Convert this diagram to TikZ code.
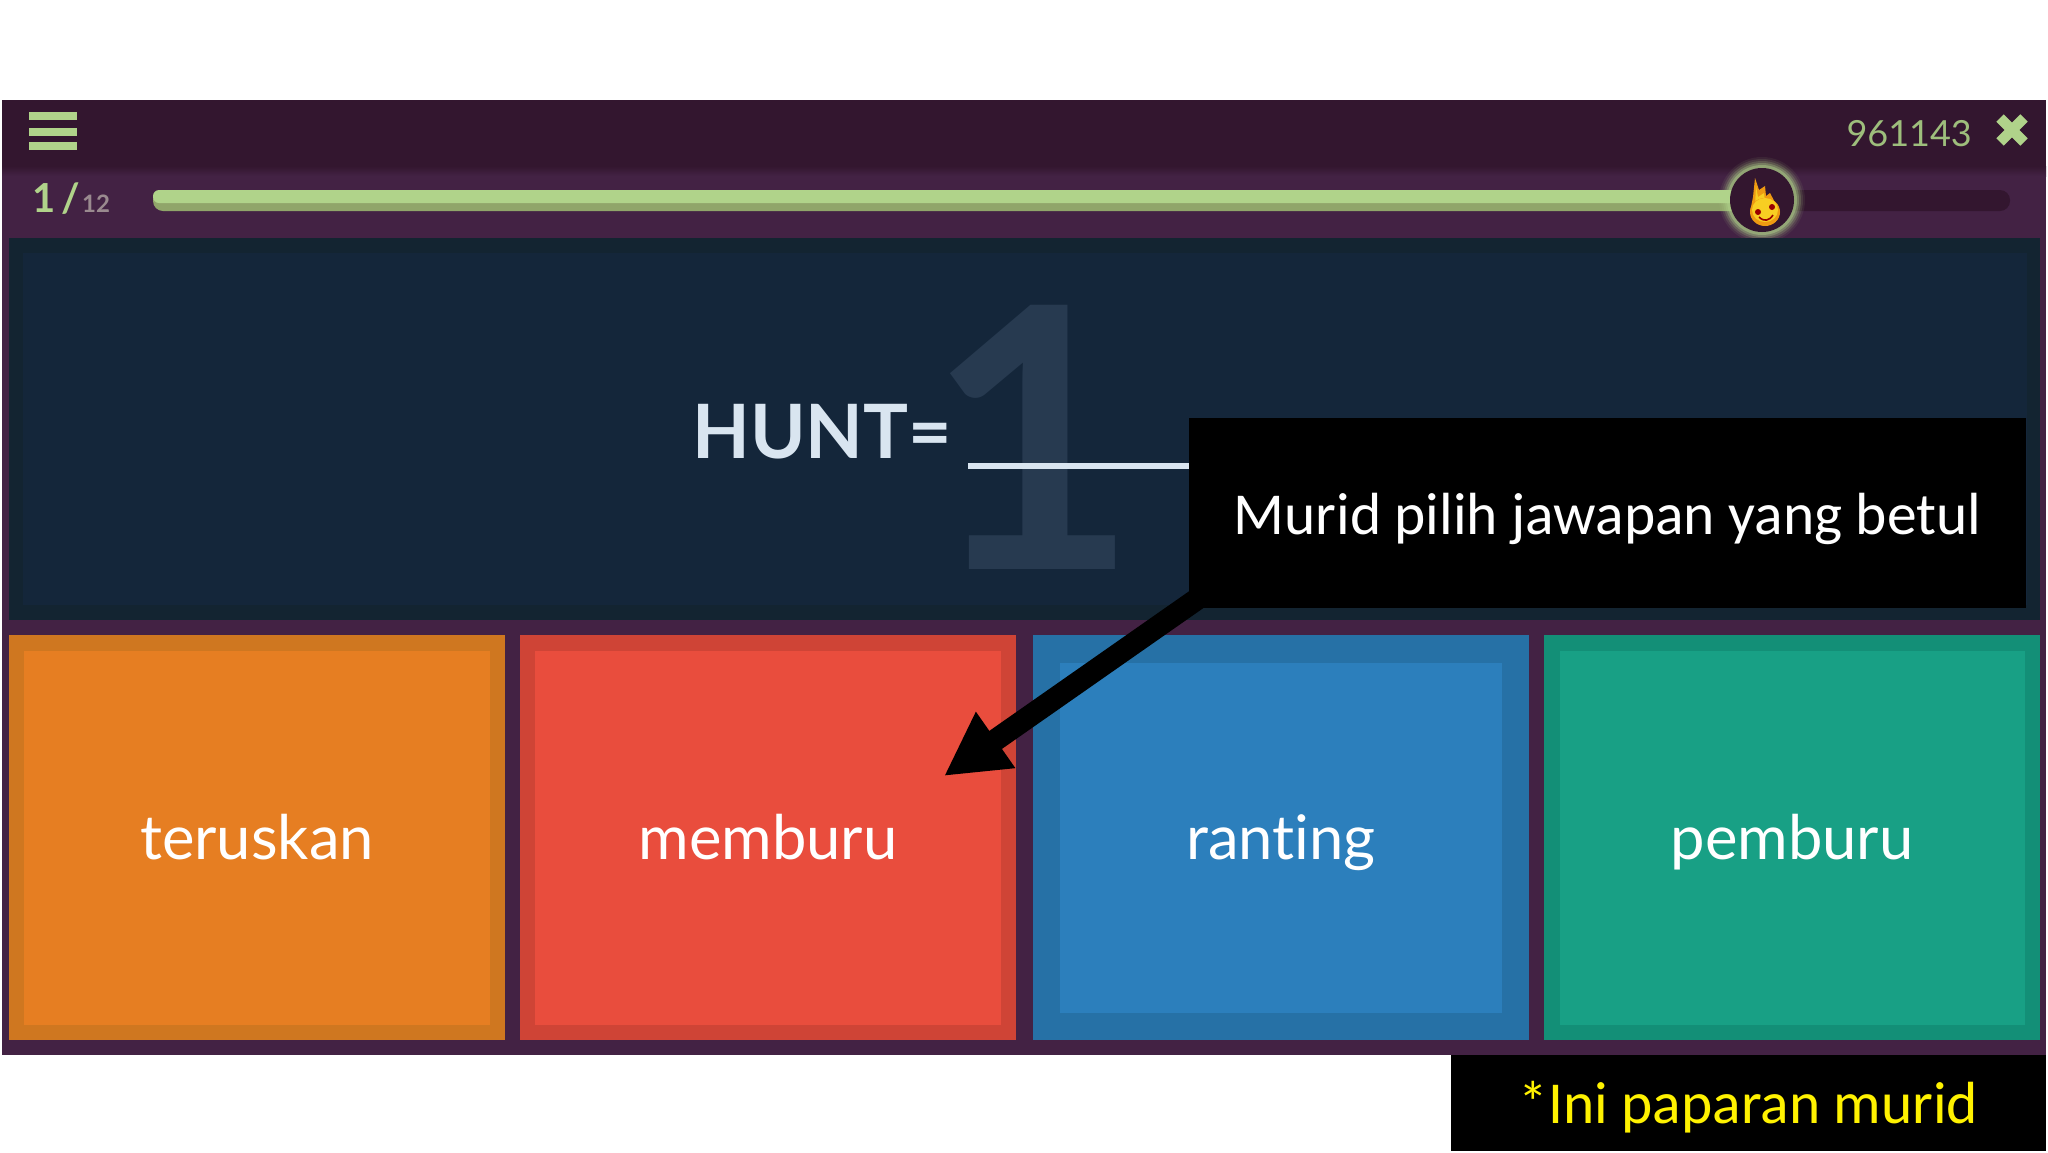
\documentclass[tikz,border=0pt]{standalone}
\usepackage{fontspec}
\setmainfont[Ligatures=NoCommon]{Lato}
\newfontfamily\notefont{Carlito}
\usepackage{xcolor}
\usetikzlibrary{arrows.meta, positioning}
\definecolor{barpurple}{HTML}{33162F}
\definecolor{panelpurple}{HTML}{432244}
\definecolor{quizouter}{HTML}{132431}
\definecolor{quizinner}{HTML}{14263A}
\definecolor{ghostone}{HTML}{273A50}
\definecolor{limegreen}{HTML}{B0D38A}
\definecolor{limedark}{HTML}{90A56A}
\definecolor{hintgrey}{HTML}{9A8A8F}
\definecolor{ice}{HTML}{D9E5F0}
\definecolor{orangeouter}{HTML}{CF7720}
\definecolor{orangeinner}{HTML}{E67E22}
\definecolor{redouter}{HTML}{CF4436}
\definecolor{redinner}{HTML}{E94D3D}
\definecolor{blueouter}{HTML}{2671A6}
\definecolor{blueinner}{HTML}{2C7FBC}
\definecolor{greenouter}{HTML}{138F77}
\definecolor{greeninner}{HTML}{18A085}
\definecolor{flameorange}{HTML}{EE9A12}
\definecolor{flameyellow}{HTML}{F8CE22}
\tikzset{
    outernode/.style = {draw=none, rectangle, inner sep = 0em, node distance=0em, minimum width=496pt, minimum height=405pt},
    innernode/.style = {draw=none, rectangle, inner sep = 0em, node distance=0em, text=white, text height=44pt, text depth=0pt, font=\fontsize{61.5}{72}\selectfont},
    textnode/.style  = {draw=none, fill=none, rectangle, inner sep = 0em, node distance=0em},
    notenode/.style  = {draw=none, fill=black, rectangle, inner sep = 0em, text depth=0pt, font=\notefont\fontsize{59.5}{70}\selectfont},
    connect/.style = {black, line width=22pt, -{Triangle[length=63pt,width=64pt]}}
}
\begin{document}
\begin{tikzpicture}[x=1pt, y=-1pt]
\useasboundingbox (0,0) rectangle (2048,1152);
\fill[white] (0,0) rectangle (2048,1152);
\fill[panelpurple] (2,100) rectangle (2046,1055);
\fill[barpurple] (2,100) rectangle (2046,166);
\shade[top color=barpurple, bottom color=panelpurple] (2,166) rectangle (2046,176);
\foreach \y in {116,131.5,146} \fill[limegreen] (29,\y-4) rectangle (77,\y+4);
\node[textnode, name=count, anchor=base west, text=limegreen, font=\fontsize{40}{48}\selectfont\bfseries] at (32,212) {1\kern6pt/};
\node[textnode, name=total, anchor=base west, text=hintgrey, font=\fontsize{24}{28}\selectfont\bfseries] at (82,212) {12};
\node[textnode, name=code, anchor=base east, text=limegreen!90!black, font=\fontsize{36}{44}\selectfont] at (1972,146) {961143};
\draw[limegreen, line width=10.5pt] (2000,118) -- (2024,142) (2024,118) -- (2000,142);
\fill[barpurple, rounded corners=10pt] (1740,190) rectangle (2010,211);
\fill[limedark, rounded corners=10pt] (153,190) rectangle (1760,211);
\fill[limegreen, rounded corners=6pt] (153,190) rectangle (1760,203);
\foreach \r/\o in {43/0.08, 41/0.12, 39/0.2, 37/0.3, 35/0.45} \fill[limegreen, opacity=\o] (1762,200) circle (\r);
\fill[barpurple] (1762,200) circle (32);
\fill[flameorange] (1755,178) -- (1759,190) -- (1765,186) -- (1766,196) -- (1770,193) -- (1780,212) -- (1750,212) -- (1753,197) -- cycle;
\fill[flameyellow] (1756,186) -- (1758,197) -- (1764,193) -- (1765,202) -- (1772,203) -- (1755,206) -- cycle;
\fill[flameorange] (1765,212) ellipse (15 and 14);
\fill[flameyellow] (1765,210) ellipse (13 and 12);
\fill[red!60!black] (1758,212) circle (3) (1772,207) circle (3);
\draw[red!60!black, line width=1.6pt] (1759,217) .. controls (1764,222) and (1769,221) .. (1773,215);
\fill[quizouter] (9,238) rectangle (2040,620);
\fill[quizinner] (23,253) rectangle (2027,605);
\node[textnode, name=ghost, text=ghostone, font=\fontsize{365}{400}\selectfont\bfseries] at (1032,437) {1};
\node[textnode, name=hunt, anchor=base west, text=ice, font=\fontsize{75}{90}\selectfont\bfseries] at (692,458) {HUNT=};
\fill[ice] (968,463) rectangle (1189,469);
\node[outernode, fill=orangeouter, name=ansA] at (257,837.5) {};
\node[outernode, fill=redouter, right of = ansA, xshift=511pt, name=ansB] {};
\node[outernode, fill=blueouter, right of = ansB, xshift=513pt, name=ansC] {};
\node[outernode, fill=greenouter, right of = ansC, xshift=511pt, name=ansD] {};
\node[innernode, fill=orangeinner, minimum width=466pt, minimum height=374pt, name=optA] at (ansA) {teruskan};
\node[innernode, fill=redinner, minimum width=466pt, minimum height=374pt, name=optB] at (ansB) {memburu};
\node[innernode, fill=blueinner, minimum width=442pt, minimum height=350pt, name=optC] at (ansC) {ranting};
\node[innernode, fill=greeninner, minimum width=465pt, minimum height=374pt, name=optD] at (ansD) {pemburu};
\node[notenode, name=note, text=white, text height=43pt, minimum width=837pt, minimum height=190pt] at (1607.5,512.5) {Murid pilih jawapan yang betul};
\coordinate (tail) at (1200,597);
\coordinate (tip) at (944,776);
\draw[connect] (tail) -- (tip);
\node[notenode, name=screen, text=yellow, text height=40pt, minimum width=595pt, minimum height=96pt] at (1748.5,1103) {*Ini paparan murid};
\end{tikzpicture}
\end{document}
